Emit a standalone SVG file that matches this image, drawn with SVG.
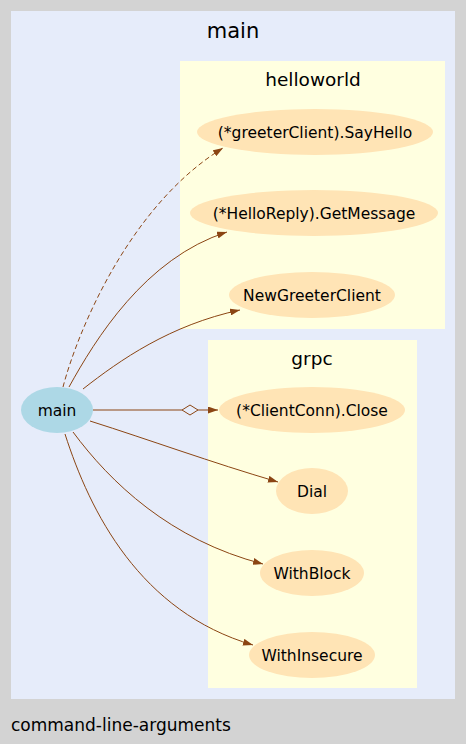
<svg xmlns="http://www.w3.org/2000/svg" width="466" height="744" viewBox="0 0 466 744">
<style>
text{font-family:"DejaVu Sans",Verdana,sans-serif;fill:#000}
.cl{fill:#ffffe0}
.n{fill:#ffe4b5}
.e{fill:none;stroke:#8b4513;stroke-width:1}
.nt{font-size:15.5px;text-anchor:middle}
.ct{font-size:18.5px;text-anchor:middle}
</style>
<defs>
<marker id="ah" viewBox="0 0 10 7" refX="10" refY="3.5" markerWidth="10" markerHeight="7" markerUnits="userSpaceOnUse" orient="auto">
<path d="M0,0 L10,3.5 L0,7 z" fill="#8b4513"/>
</marker>
</defs>
<rect x="0" y="0" width="466" height="744" fill="#d3d3d3"/>
<text x="11" y="731" style="font-size:17px">command-line-arguments</text>
<g id="cluster_main">
<rect x="11" y="11" width="444" height="688" fill="#e6ecfa"/>
<text x="233" y="38" style="font-size:21px;text-anchor:middle">main</text>
</g>
<g id="cluster_helloworld">
<rect class="cl" x="180" y="61" width="265" height="268"/>
<text class="ct" x="313" y="86">helloworld</text>
</g>
<g id="cluster_grpc">
<rect class="cl" x="208" y="340" width="209" height="348"/>
<text class="ct" x="312" y="365">grpc</text>
</g>
<g id="edges">
<path class="e" d="M63,387 C78,330 130,205 223,148" stroke-dasharray="5,3" marker-end="url(#ah)"/>
<path class="e" d="M69,387 C95,340 145,258 227,232" marker-end="url(#ah)"/>
<path class="e" d="M83,389 C120,360 170,325 240,310" marker-end="url(#ah)"/>
<path class="e" d="M93,410 H182"/>
<path d="M182,410 L190,405 L198,410 L190,415 z" fill="none" stroke="#8b4513"/>
<path class="e" d="M198,410 H218" marker-end="url(#ah)"/>
<path class="e" d="M90,421 C150,440 210,462 278,482" marker-end="url(#ah)"/>
<path class="e" d="M73,432 C110,482 170,540 263,564" marker-end="url(#ah)"/>
<path class="e" d="M65,434 C90,512 140,612 253,645" marker-end="url(#ah)"/>
</g>
<g id="node_main">
<ellipse cx="57" cy="410" rx="36" ry="23" fill="#add8e6"/>
<text class="nt" x="57" y="416">main</text>
</g>
<g id="node_SayHello">
<ellipse class="n" cx="315" cy="132" rx="118" ry="23"/>
<text class="nt" x="315" y="138">(*greeterClient).SayHello</text>
</g>
<g id="node_GetMessage">
<ellipse class="n" cx="314" cy="213" rx="124" ry="23"/>
<text class="nt" x="314" y="219">(*HelloReply).GetMessage</text>
</g>
<g id="node_NewGreeterClient">
<ellipse class="n" cx="312" cy="295" rx="83" ry="23"/>
<text class="nt" x="312" y="301">NewGreeterClient</text>
</g>
<g id="node_Close">
<ellipse class="n" cx="312" cy="410" rx="93" ry="23"/>
<text class="nt" x="312" y="416">(*ClientConn).Close</text>
</g>
<g id="node_Dial">
<ellipse class="n" cx="312" cy="491" rx="36" ry="23"/>
<text class="nt" x="312" y="497">Dial</text>
</g>
<g id="node_WithBlock">
<ellipse class="n" cx="312" cy="573" rx="52" ry="23"/>
<text class="nt" x="312" y="579">WithBlock</text>
</g>
<g id="node_WithInsecure">
<ellipse class="n" cx="312" cy="655" rx="63" ry="23"/>
<text class="nt" x="312" y="661">WithInsecure</text>
</g>
</svg>
